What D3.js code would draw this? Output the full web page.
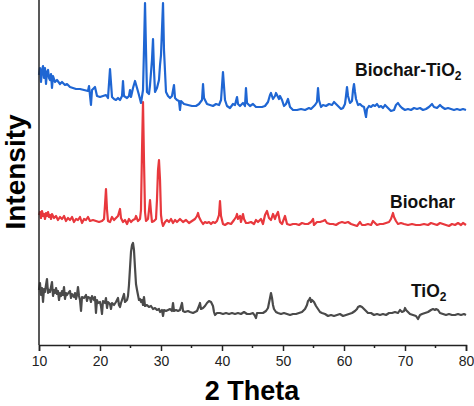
<!DOCTYPE html>
<html>
<head>
<meta charset="utf-8">
<script src="https://cdn.jsdelivr.net/npm/d3@7"></script>
<style>
	body { margin: 0; background: #fff; }
	svg { display: block; font-family: Arial, "Liberation Sans", sans-serif; }
</style>
</head>
<body>
<div id="dataviz"></div>
<script>
// 2 theta ticks
var xTicks = [10, 20, 30, 40, 50, 60, 70, 80]
var xMinor = [15, 25, 35, 45, 55, 65, 75]

// [2theta, intensity (a.u., offset)]
var biocharTiO2 = [
	[10.00,270],[10.16,277],[10.33,263],[10.49,275],[10.66,279],[10.82,267],[10.98,277],[11.15,261],[11.31,273],[11.48,275],
	[11.64,267],[11.80,265],[11.97,271],[12.13,257],[12.30,269],[12.62,263],[12.95,265],[13.44,261],[13.77,263],[14.26,260],
	[14.59,261],[15.08,258],[15.57,257],[16.07,256],[16.72,256],[17.38,255],[18.03,254],[18.20,259],[18.52,240],[18.69,255],
	[19.02,257],[19.18,258],[19.51,249],[20.00,248],[20.49,249],[20.98,250],[21.31,247],[21.64,276],[21.97,248],[22.30,246],
	[22.62,245],[22.95,247],[23.28,245],[23.61,249],[23.77,264],[23.93,249],[24.43,247],[24.75,249],[24.92,255],[25.08,248],
	[25.41,257],[25.74,264],[26.07,257],[26.39,250],[26.72,242],[27.05,255],[27.21,295],[27.38,342],[27.54,295],[27.70,253],
	[28.03,251],[28.20,260],[28.52,285],[28.69,306],[28.85,275],[29.02,253],[29.34,257],[29.67,265],[29.84,280],[30.00,290],
	[30.16,315],[30.33,342],[30.49,295],[30.82,253],[31.15,249],[31.48,247],[31.80,249],[32.13,260],[32.30,247],[32.62,245],
	[32.95,244],[33.11,235],[33.28,244],[33.77,241],[34.43,240],[35.08,239],[35.74,239],[36.23,241],[36.72,245],[36.89,261],
	[37.05,247],[37.54,241],[38.03,240],[38.52,239],[39.02,241],[39.51,240],[39.84,245],[40.16,273],[40.49,245],[40.82,239],
	[41.31,237],[41.80,241],[42.13,240],[42.46,248],[42.62,241],[42.95,239],[43.44,242],[43.77,239],[43.93,257],[44.10,242],
	[44.59,239],[45.08,241],[45.57,238],[46.07,238],[46.56,238],[47.05,239],[47.54,243],[47.87,250],[48.03,252],[48.36,246],
	[48.69,249],[48.85,252],[49.02,250],[49.34,246],[49.51,249],[49.84,245],[50.16,239],[50.49,241],[50.82,246],[51.15,238],
	[51.64,235],[52.30,235],[52.95,236],[53.61,235],[54.26,237],[54.59,236],[54.92,238],[55.25,240],[55.57,243],[55.74,257],
	[55.90,245],[56.23,238],[56.56,240],[57.05,239],[57.54,241],[58.03,240],[58.36,243],[58.69,241],[59.02,239],[59.51,236],
	[59.84,237],[60.16,241],[60.33,249],[60.49,258],[60.66,249],[60.98,242],[61.31,244],[61.48,255],[61.64,261],[61.80,253],
	[61.97,246],[62.30,240],[62.62,241],[62.95,239],[63.28,238],[63.44,233],[63.61,228],[63.77,236],[64.10,239],[64.43,238],
	[64.75,240],[65.08,239],[65.41,241],[65.74,238],[66.07,239],[66.39,237],[66.72,240],[67.21,237],[67.70,234],[68.20,235],
	[68.52,240],[68.85,242],[69.18,239],[69.51,237],[70.00,235],[70.49,236],[70.98,235],[71.48,237],[71.97,236],[72.46,237],
	[72.95,235],[73.44,236],[73.93,238],[74.43,241],[74.75,238],[75.25,237],[75.74,240],[76.07,238],[76.56,236],[77.05,237],
	[77.54,236],[78.03,235],[78.52,236],[79.02,235],[79.51,236],[80.00,235]
]

var biochar = [
	[10.00,130],[10.16,133],[10.33,127],[10.49,134],[10.66,129],[10.82,131],[10.98,126],[11.15,132],[11.31,129],[11.48,133],
	[11.64,128],[11.80,130],[11.97,126],[12.13,131],[12.46,127],[12.79,129],[13.11,125],[13.44,128],[13.77,126],[14.10,129],
	[14.43,124],[14.75,127],[15.08,125],[15.41,128],[15.74,123],[16.07,126],[16.39,125],[16.72,128],[17.05,122],[17.38,126],
	[17.70,125],[18.03,128],[18.36,124],[18.85,125],[19.34,124],[19.84,123],[20.33,124],[20.66,126],[20.82,140],[20.98,156],
	[21.15,135],[21.31,124],[21.64,123],[21.97,128],[22.30,125],[22.62,127],[22.95,129],[23.28,136],[23.44,127],[23.77,123],
	[24.10,125],[24.43,121],[24.75,126],[25.08,123],[25.41,125],[25.74,126],[25.90,129],[26.23,124],[26.56,126],[26.72,135],
	[26.89,195],[27.05,243],[27.21,185],[27.38,133],[27.54,124],[27.87,126],[28.03,135],[28.20,145],[28.36,133],[28.52,123],
	[28.85,124],[29.18,126],[29.34,145],[29.51,175],[29.67,185],[29.84,165],[30.00,130],[30.16,123],[30.33,119],[30.66,123],
	[30.98,125],[31.31,123],[31.64,126],[31.97,122],[32.30,125],[32.62,123],[33.11,126],[33.61,123],[34.10,125],[34.59,122],
	[35.08,124],[35.57,126],[35.90,129],[36.07,132],[36.23,128],[36.56,124],[36.89,121],[37.21,123],[37.54,122],[37.87,123],
	[38.20,121],[38.52,123],[38.85,122],[39.18,124],[39.51,130],[39.67,144],[39.84,129],[40.16,121],[40.49,120],[40.98,122],
	[41.48,121],[41.97,125],[42.30,128],[42.46,131],[42.62,126],[42.95,129],[43.11,123],[43.44,131],[43.61,126],[43.93,122],
	[44.26,122],[44.75,123],[45.25,121],[45.57,125],[45.90,123],[46.39,126],[46.72,121],[47.05,130],[47.38,134],[47.70,127],
	[48.03,125],[48.36,131],[48.69,126],[48.85,129],[49.18,133],[49.51,123],[49.84,121],[50.33,129],[50.66,121],[51.15,120],
	[51.64,121],[52.13,121],[52.62,120],[53.11,122],[53.61,121],[54.10,121],[54.59,123],[54.92,126],[55.08,120],[55.57,123],
	[56.07,123],[56.56,124],[56.89,125],[57.21,122],[57.70,121],[58.20,121],[58.69,120],[59.18,122],[59.67,123],[60.16,122],
	[60.66,123],[61.15,121],[61.64,120],[62.13,119],[62.62,123],[62.95,120],[63.44,120],[63.93,121],[64.43,120],[64.75,124],
	[65.08,122],[65.41,120],[65.90,121],[66.39,121],[66.89,122],[67.38,123],[67.70,126],[68.03,132],[68.20,128],[68.52,124],
	[68.85,121],[69.34,122],[69.84,121],[70.49,120],[71.15,121],[71.80,120],[72.46,120],[73.11,121],[73.77,120],[74.26,122],
	[74.75,121],[75.25,120],[75.74,122],[76.23,121],[76.72,120],[77.21,119],[77.70,121],[78.20,120],[78.69,122],[79.18,120],
	[79.51,122],[80.00,120]
]

var tio2 = [
	[10.00,55],[10.16,62],[10.33,50],[10.49,57],[10.66,43],[10.82,56],[10.98,53],[11.15,60],[11.31,66],[11.48,52],
	[11.64,55],[11.80,53],[11.97,58],[12.13,63],[12.30,49],[12.46,55],[12.62,52],[12.79,57],[12.95,51],[13.11,54],
	[13.28,45],[13.44,52],[13.61,49],[13.77,54],[13.93,50],[14.10,58],[14.26,46],[14.43,52],[14.59,50],[14.92,53],
	[15.08,54],[15.25,47],[15.41,51],[15.74,48],[15.90,52],[16.07,46],[16.23,50],[16.39,58],[16.56,49],[16.72,45],
	[16.89,34],[17.05,48],[17.38,47],[17.70,50],[17.87,44],[18.03,48],[18.36,47],[18.52,43],[18.69,49],[19.02,45],
	[19.18,48],[19.34,32],[19.51,45],[19.67,42],[20.00,43],[20.16,39],[20.33,31],[20.49,44],[20.82,42],[20.98,47],
	[21.15,37],[21.31,43],[21.64,41],[21.80,36],[21.97,42],[22.30,40],[22.62,43],[22.95,47],[23.11,40],[23.28,38],
	[23.44,42],[23.61,45],[23.93,51],[24.10,43],[24.43,45],[24.59,49],[24.75,60],[24.92,77],[25.08,93],[25.25,100],
	[25.41,102],[25.57,95],[25.74,77],[25.90,61],[26.07,55],[26.23,50],[26.39,45],[26.56,46],[26.72,43],[26.89,45],
	[27.05,40],[27.21,48],[27.38,39],[27.70,40],[28.03,38],[28.36,39],[28.69,36],[29.02,37],[29.34,35],[29.67,36],
	[29.84,33],[30.16,35],[30.33,29],[30.49,35],[30.82,34],[31.15,35],[31.48,36],[31.80,34],[31.97,42],[32.13,34],
	[32.46,35],[32.79,34],[33.11,35],[33.44,42],[33.61,34],[33.93,33],[34.43,34],[34.75,33],[35.25,32],[35.57,33],
	[35.90,34],[36.23,39],[36.39,42],[36.56,36],[36.89,37],[37.21,39],[37.54,42],[37.87,44],[38.20,43],[38.52,39],
	[38.69,33],[38.85,30],[39.18,32],[39.67,32],[40.16,31],[40.66,32],[41.15,31],[41.64,32],[42.13,31],[42.62,32],
	[43.11,31],[43.61,33],[44.10,31],[44.59,31],[45.08,32],[45.41,29],[45.57,27],[45.74,32],[46.23,32],[46.72,32],
	[47.21,34],[47.54,37],[47.70,42],[47.87,47],[48.03,52],[48.20,47],[48.36,40],[48.52,36],[48.85,33],[49.18,32],
	[49.67,31],[50.16,32],[50.66,31],[51.15,30],[51.64,31],[52.13,31],[52.62,32],[53.11,33],[53.61,36],[53.93,40],
	[54.10,44],[54.26,45],[54.43,47],[54.59,43],[54.75,45],[54.92,44],[55.08,43],[55.41,39],[55.74,36],[56.07,33],
	[56.39,32],[56.89,31],[57.38,29],[57.87,30],[58.36,29],[58.85,30],[59.34,31],[59.84,29],[60.33,30],[60.82,31],
	[61.31,32],[61.80,34],[62.13,36],[62.30,38],[62.62,39],[62.95,38],[63.28,36],[63.61,34],[63.93,32],[64.43,32],
	[64.92,30],[65.41,31],[65.90,30],[66.39,31],[66.89,30],[67.38,32],[67.87,32],[68.36,33],[68.85,32],[69.18,35],
	[69.51,33],[69.84,34],[70.00,37],[70.16,35],[70.49,33],[70.82,31],[71.31,30],[71.80,29],[72.13,26],[72.46,30],
	[72.79,31],[73.28,32],[73.77,33],[74.26,35],[74.59,36],[74.92,35],[75.08,36],[75.41,35],[75.74,32],[76.23,31],
	[76.72,30],[77.21,31],[77.70,30],[78.20,30],[78.69,31],[79.18,30],[79.67,31],[80.00,30]
]

var width = 474
var height = 406
var margin = {top: 0, left: 39, right: 8, bottom: 61}
var plotW = width - margin.left - margin.right
var plotH = height - margin.top - margin.bottom

var svg = d3.select("#dataviz").append("svg")
	.attr("width", width)
	.attr("height", height)

var g = svg.append("g")
	.attr("transform", "translate(" + margin.left + "," + margin.top + ")")

var x = d3.scaleLinear().domain([10, 80]).range([0, plotW])
var y = d3.scaleLinear().domain([0, 345]).range([plotH, 0])

var line = d3.line()
	.x(d => x(d[0]))
	.y(d => y(d[1]))

//courbes
var series = [
	{data: tio2, color: "#4a4a4a"},
	{data: biochar, color: "#e8383d"},
	{data: biocharTiO2, color: "#1f66d3"}
]

g.selectAll("path.trace")
	.data(series)
	.enter()
	.append("path")
	.attr("class", "trace")
	.attr("d", d => line(d.data))
	.attr("fill", "none")
	.attr("stroke", d => d.color)
	.attr("stroke-width", 2.2)
	.attr("stroke-linejoin", "round")

//axe x
var xAxis = g.append("g")
	.attr("transform", "translate(0," + plotH + ")")
	.call(d3.axisBottom(x).tickValues(xTicks).tickSize(6).tickPadding(5).tickFormat(d3.format("d")))

xAxis.select(".domain").attr("stroke", "#222").attr("stroke-width", 1.5)
xAxis.selectAll(".tick line").attr("stroke", "#222").attr("stroke-width", 1.5)
xAxis.selectAll(".tick text")
	.attr("font-size", "14px")
	.attr("font-family", "Arial, 'Liberation Sans', sans-serif")
	.attr("fill", "#222")

g.selectAll("line.minor")
	.data(xMinor)
	.enter()
	.append("line")
	.attr("class", "minor")
	.attr("x1", d => x(d))
	.attr("x2", d => x(d))
	.attr("y1", plotH)
	.attr("y2", plotH + 3)
	.attr("stroke", "#222")
	.attr("stroke-width", 1.5)

//axe y (sans graduations)
g.append("line")
	.attr("x1", 0)
	.attr("x2", 0)
	.attr("y1", 0)
	.attr("y2", plotH)
	.attr("stroke", "#222")
	.attr("stroke-width", 1.5)

//titres des axes
svg.append("text")
	.attr("x", 252)
	.attr("y", 400)
	.attr("text-anchor", "middle")
	.attr("font-size", "27px")
	.attr("font-weight", "bold")
	.attr("fill", "#000")
	.text("2 Theta")

svg.append("text")
	.attr("transform", "translate(25,172)rotate(-90)")
	.attr("text-anchor", "middle")
	.attr("font-size", "28px")
	.attr("font-weight", "bold")
	.attr("fill", "#000")
	.text("Intensity")

//legendes des courbes
var labels = [
	{name: "Biochar-TiO", sub: "2", x: 355, y: 76},
	{name: "Biochar", sub: "", x: 390, y: 208},
	{name: "TiO", sub: "2", x: 411, y: 297}
]

labels.forEach(function (l) {
	var t = svg.append("text")
		.attr("x", l.x)
		.attr("y", l.y)
		.attr("font-size", "17.5px")
		.attr("font-weight", "bold")
		.attr("fill", "#111")
	t.append("tspan").text(l.name)
	if (l.sub) {
		t.append("tspan")
			.attr("dy", 4)
			.attr("font-size", "12px")
			.text(l.sub)
	}
})
</script>
</body>
</html>
